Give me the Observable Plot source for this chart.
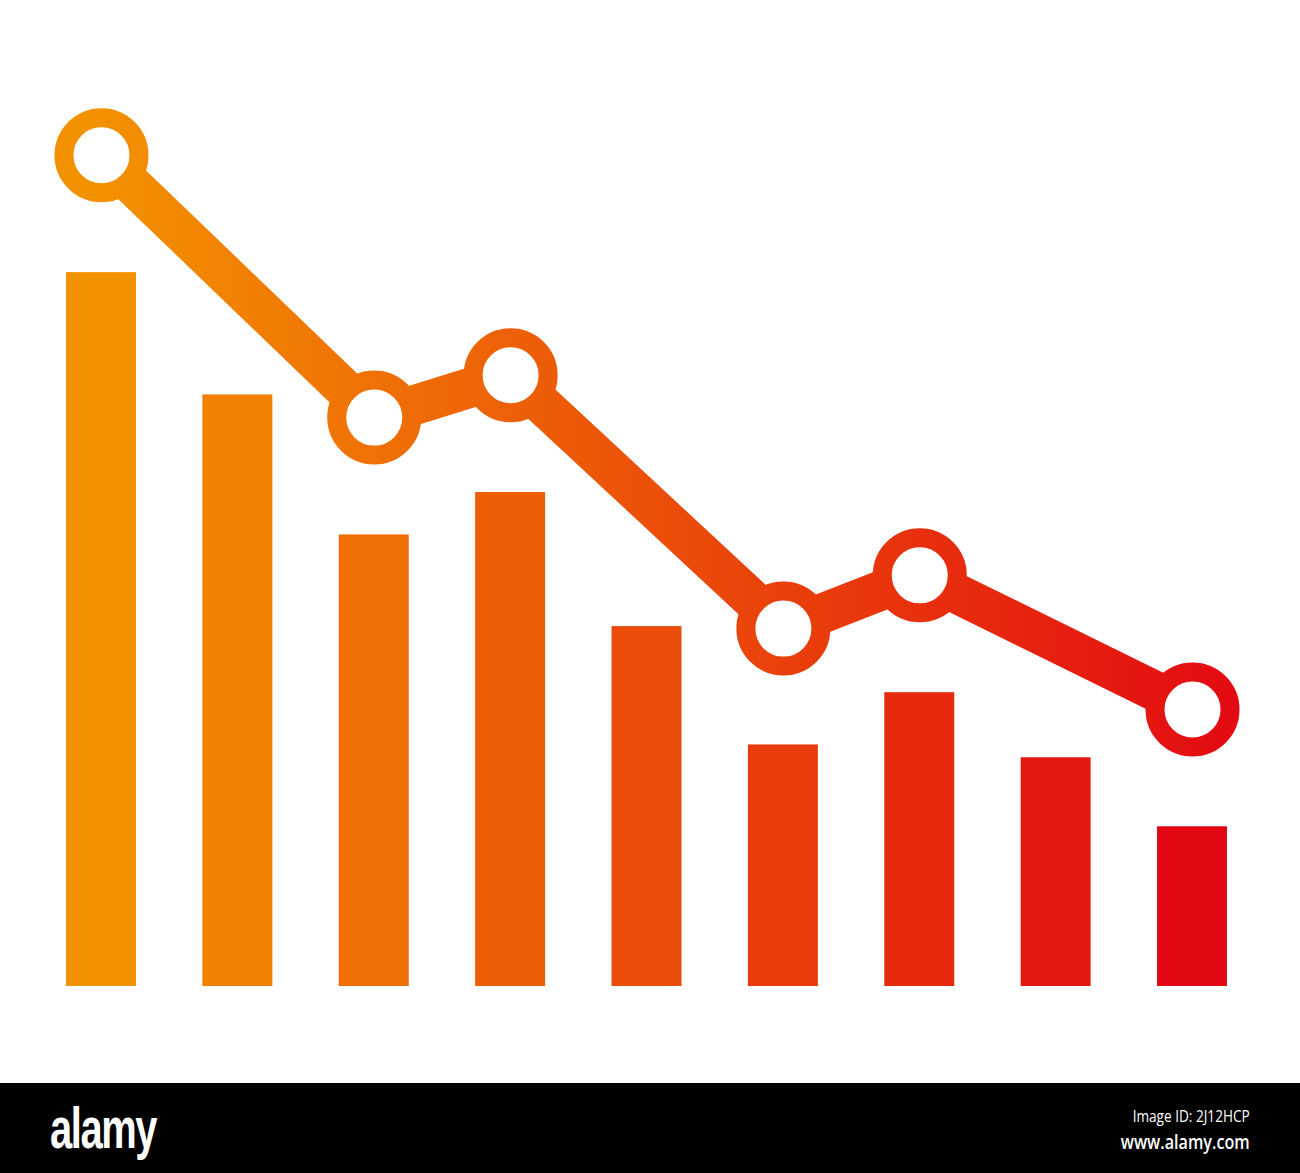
<!DOCTYPE html>
<html><head><meta charset="utf-8">
<script src="https://cdn.jsdelivr.net/npm/d3@7"></script>
<script src="https://cdn.jsdelivr.net/npm/@observablehq/plot@0.6"></script>
<style>
body{margin:0;background:#fff;width:1300px;height:1173px;overflow:hidden;font-family:"Liberation Sans",sans-serif}
#chart svg{display:block}
#footer{position:relative;width:1300px;height:90px;background:#000;color:#fff}
#logo{position:absolute;left:50px;top:12px;font-family:"Liberation Sans Narrow","Liberation Sans",sans-serif;font-weight:bold;font-size:57px;letter-spacing:-2px;transform:scaleX(0.7);transform-origin:left top}
#ids{position:absolute;right:50px;top:20px;text-align:right;font-family:"Open Sans",sans-serif;line-height:26px}
#ids .a{font-size:16px;transform:scaleX(0.85);transform-origin:right;display:block}
#ids .b{font-size:19px;font-weight:600;transform:scaleX(0.85);transform-origin:right;display:block}
</style>
</head><body>
<div id="chart"></div>
<div id="footer"><div id="logo">alamy</div><div id="ids"><span class="a">Image ID: 2J12HCP</span><span class="b">www.alamy.com</span></div></div>
<script>
const categories = ["1","2","3","4","5","6","7","8","9"];
const barValues = [724, 600, 458, 501, 365, 245, 298, 232, 162];
const lineCategories = ["1","3","4","6","7","9"];
const lineValues = [843, 577, 620, 363, 417, 281];
const colorStart = "#F39200";
const colorEnd = "#E30613";

const bars = categories.map((c, i) => ({c, v: barValues[i], i}));
const pts = lineCategories.map((c, i) => ({c, v: lineValues[i]}));
const interp = d3.interpolateRgb(colorStart, colorEnd);

const plot = Plot.plot({
  width: 1300,
  height: 1083,
  marginLeft: 66,
  marginRight: 73,
  marginTop: 0,
  marginBottom: 97,
  x: {domain: categories, paddingInner: 0.487, paddingOuter: 0, round: false, axis: null},
  y: {domain: [0, 1000], axis: null},
  marks: [
    Plot.barY(bars, {x: "c", y: "v", fill: d => interp(d.i / (categories.length - 1))}),
    Plot.line(pts, {x: "c", y: "v", stroke: "url(#lineGrad)", strokeWidth: 40, strokeLinejoin: "round"}),
    Plot.dot(pts, {x: "c", y: "v", r: 37.5, fill: "white", stroke: "url(#lineGrad)", strokeWidth: 19})
  ]
});

const xs = plot.scale("x");
const half = xs.bandwidth / 2;
const gx1 = xs.apply(categories[0]) + half - 47;
const gx2 = xs.apply(categories[categories.length - 1]) + half + 47;
const defs = d3.select(plot).insert("defs", ":first-child");
const g = defs.append("linearGradient").attr("id", "lineGrad")
  .attr("gradientUnits", "userSpaceOnUse")
  .attr("x1", gx1).attr("x2", gx2).attr("y1", 0).attr("y2", 0);
g.append("stop").attr("offset", "0%").attr("stop-color", colorStart);
g.append("stop").attr("offset", "100%").attr("stop-color", colorEnd);

document.getElementById("chart").appendChild(plot);
</script>
</body></html>
